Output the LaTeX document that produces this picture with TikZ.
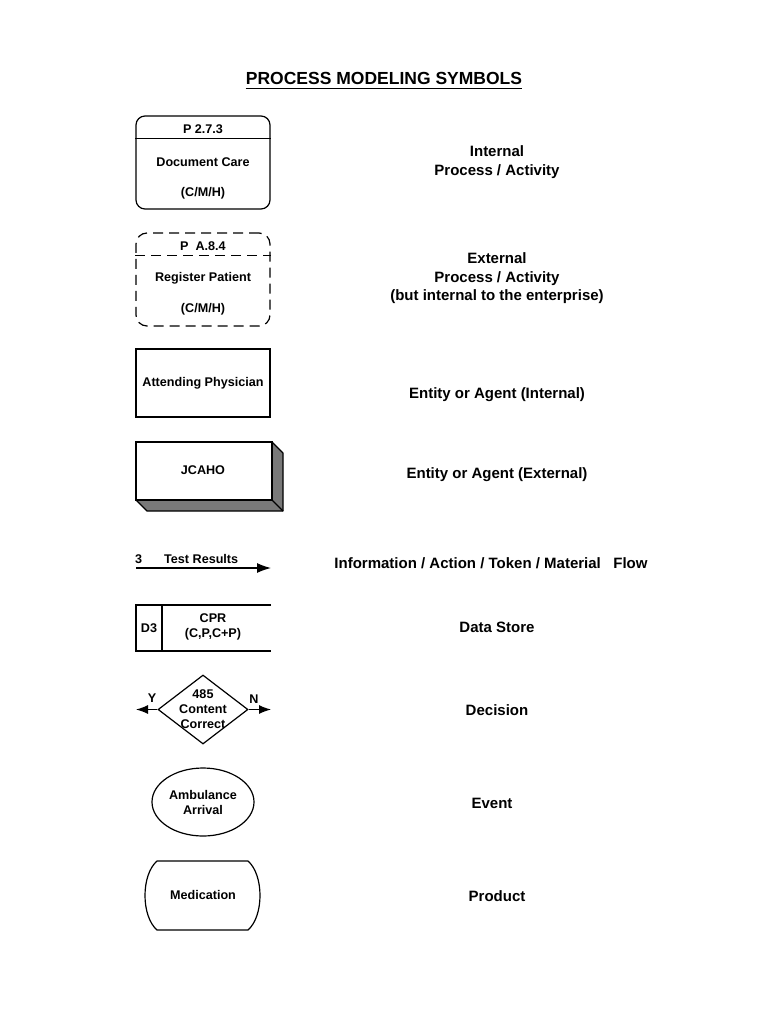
\documentclass[tikz,border=0pt]{standalone}
\usepackage{fontspec}
\setmainfont{Liberation Sans}
\usetikzlibrary{shapes.geometric,arrows.meta}
\begin{document}
\begin{tikzpicture}[x=1pt,y=-1pt,
    sym/.style={draw,line width=1.2pt,inner sep=0pt},
    small/.style={font=\fontsize{12.6}{15}\selectfont\bfseries,inner sep=0pt},
    desc/.style={font=\fontsize{15}{18.5}\selectfont\bfseries,align=center,inner sep=0pt},
    flow/.style={line width=1.2pt,-{Latex[length=14pt,width=10pt]}}]
    \useasboundingbox (0,0) rectangle (768,1024);
    % title
    \node [font=\fontsize{17.5}{20}\selectfont\bfseries,inner sep=0pt] (title) at (384,78) {PROCESS MODELING SYMBOLS};
    \draw[line width=1.8pt] ([yshift=-4.5pt]title.base west)--([yshift=-4.5pt]title.base east);
    % internal process
    \node [sym,rounded corners=9pt,minimum width=134pt,minimum height=93pt] (doc) at (203,162.5){};
    \draw[line width=1.2pt] ([yshift=-23pt]doc.north west)--([yshift=-23pt]doc.north east);
    \node [small] (docid) at (203,129) {P 2.7.3};
    \node [small] (docname) at (203,162) {Document Care};
    \node [small] (docrole) at (203,193) {(C/M/H)};
    \node [desc] (docdesc) at (497,162) {Internal\\Process / Activity};
    % external process
    \node [sym,dash pattern=on 10pt off 6pt,rounded corners=11pt,minimum width=134pt,minimum height=93pt] (reg) at (203,279.5){};
    \draw[line width=1.2pt,dash pattern=on 10pt off 6pt] ([yshift=-23pt]reg.north west)--([yshift=-23pt]reg.north east);
    \node [small] (regid) at (203,246) {P\ \ A.8.4};
    \node [small] (regname) at (203,278) {Register Patient};
    \node [small] (regrole) at (203,309) {(C/M/H)};
    \node [desc] (regdesc) at (497,278.5) {External\\Process / Activity\\(but internal to the enterprise)};
    % internal agent
    \node [sym,minimum width=134pt,minimum height=68pt] (phys) at (203,383){};
    \node [small] (physname) at (203,383) {Attending Physician};
    \node [desc] (physdesc) at (497,395) {Entity or Agent (Internal)};
    % external agent
    \fill[gray!95!black,draw=black,line width=1.2pt,line join=round] (272,442)--(283,453)--(283,511)--(147,511)--(136,500)--(272,500)--cycle;
    \draw[line width=1.2pt] (272,500)--(283,511);
    \node [sym,fill=white,minimum width=136pt,minimum height=58pt] (jcaho) at (204,471){};
    \node [small] (jcahoname) at (203,470) {JCAHO};
    \node [desc] (jcahodesc) at (497,475) {Entity or Agent (External)};
    % flow
    \coordinate (flowA) at (136,568);
    \coordinate (flowB) at (271,568);
    \draw [flow] (flowA)--(flowB);
    \node [small,anchor=west] (flownum) at (135,559) {3};
    \node [small,anchor=west] (flowname) at (164,559) {Test Results};
    \node [desc] (flowdesc) at (491,563) {Information / Action / Token / Material\ \ \ Flow};
    % data store
    \coordinate (dsTL) at (136,605);
    \coordinate (dsTR) at (271,605);
    \coordinate (dsBL) at (136,651);
    \coordinate (dsBR) at (271,651);
    \draw[line width=1.2pt] (dsTR)--(dsTL)--(dsBL)--(dsBR);
    \draw[line width=1.2pt] (162,605)--(162,651);
    \node [small] (dsid) at (149,628) {D3};
    \node [small,align=center] (dsname) at (213,627) {CPR\\(C,P,C+P)};
    \node [desc] (dsdesc) at (497,627) {Data Store};
    % decision
    \node [sym,diamond,minimum width=90pt,minimum height=69pt] (dec) at (203,709.5){};
    \node [small,align=center] (decname) at (203,709) {485\\Content\\Correct};
    \coordinate (decY) at (136,709.5);
    \coordinate (decN) at (271,709.5);
    \draw [flow,-{Latex[length=12pt,width=9pt]}] (dec.west)--(decY);
    \draw [flow,-{Latex[length=12pt,width=9pt]}] (dec.east)--(decN);
    \node [small] (ylabel) at (152,698) {Y};
    \node [small] (nlabel) at (254,699) {N};
    \node [desc] (decdesc) at (497,710) {Decision};
    % event
    \node [sym,ellipse,minimum width=102pt,minimum height=68pt] (amb) at (203,802){};
    \node [small,align=center] (ambname) at (203,802) {Ambulance\\Arrival};
    \node [desc] (ambdesc) at (492,803) {Event};
    % product
    \draw[line width=1.2pt,line join=round] (157,861)--(248,861) .. controls (264,875) and (264,916) .. (248,930)--(157,930) .. controls (141,916) and (141,875) .. (157,861)--cycle;
    \node [small] (med) at (203,895) {Medication};
    \node [desc] (meddesc) at (497,896) {Product};
\end{tikzpicture}
\end{document}
